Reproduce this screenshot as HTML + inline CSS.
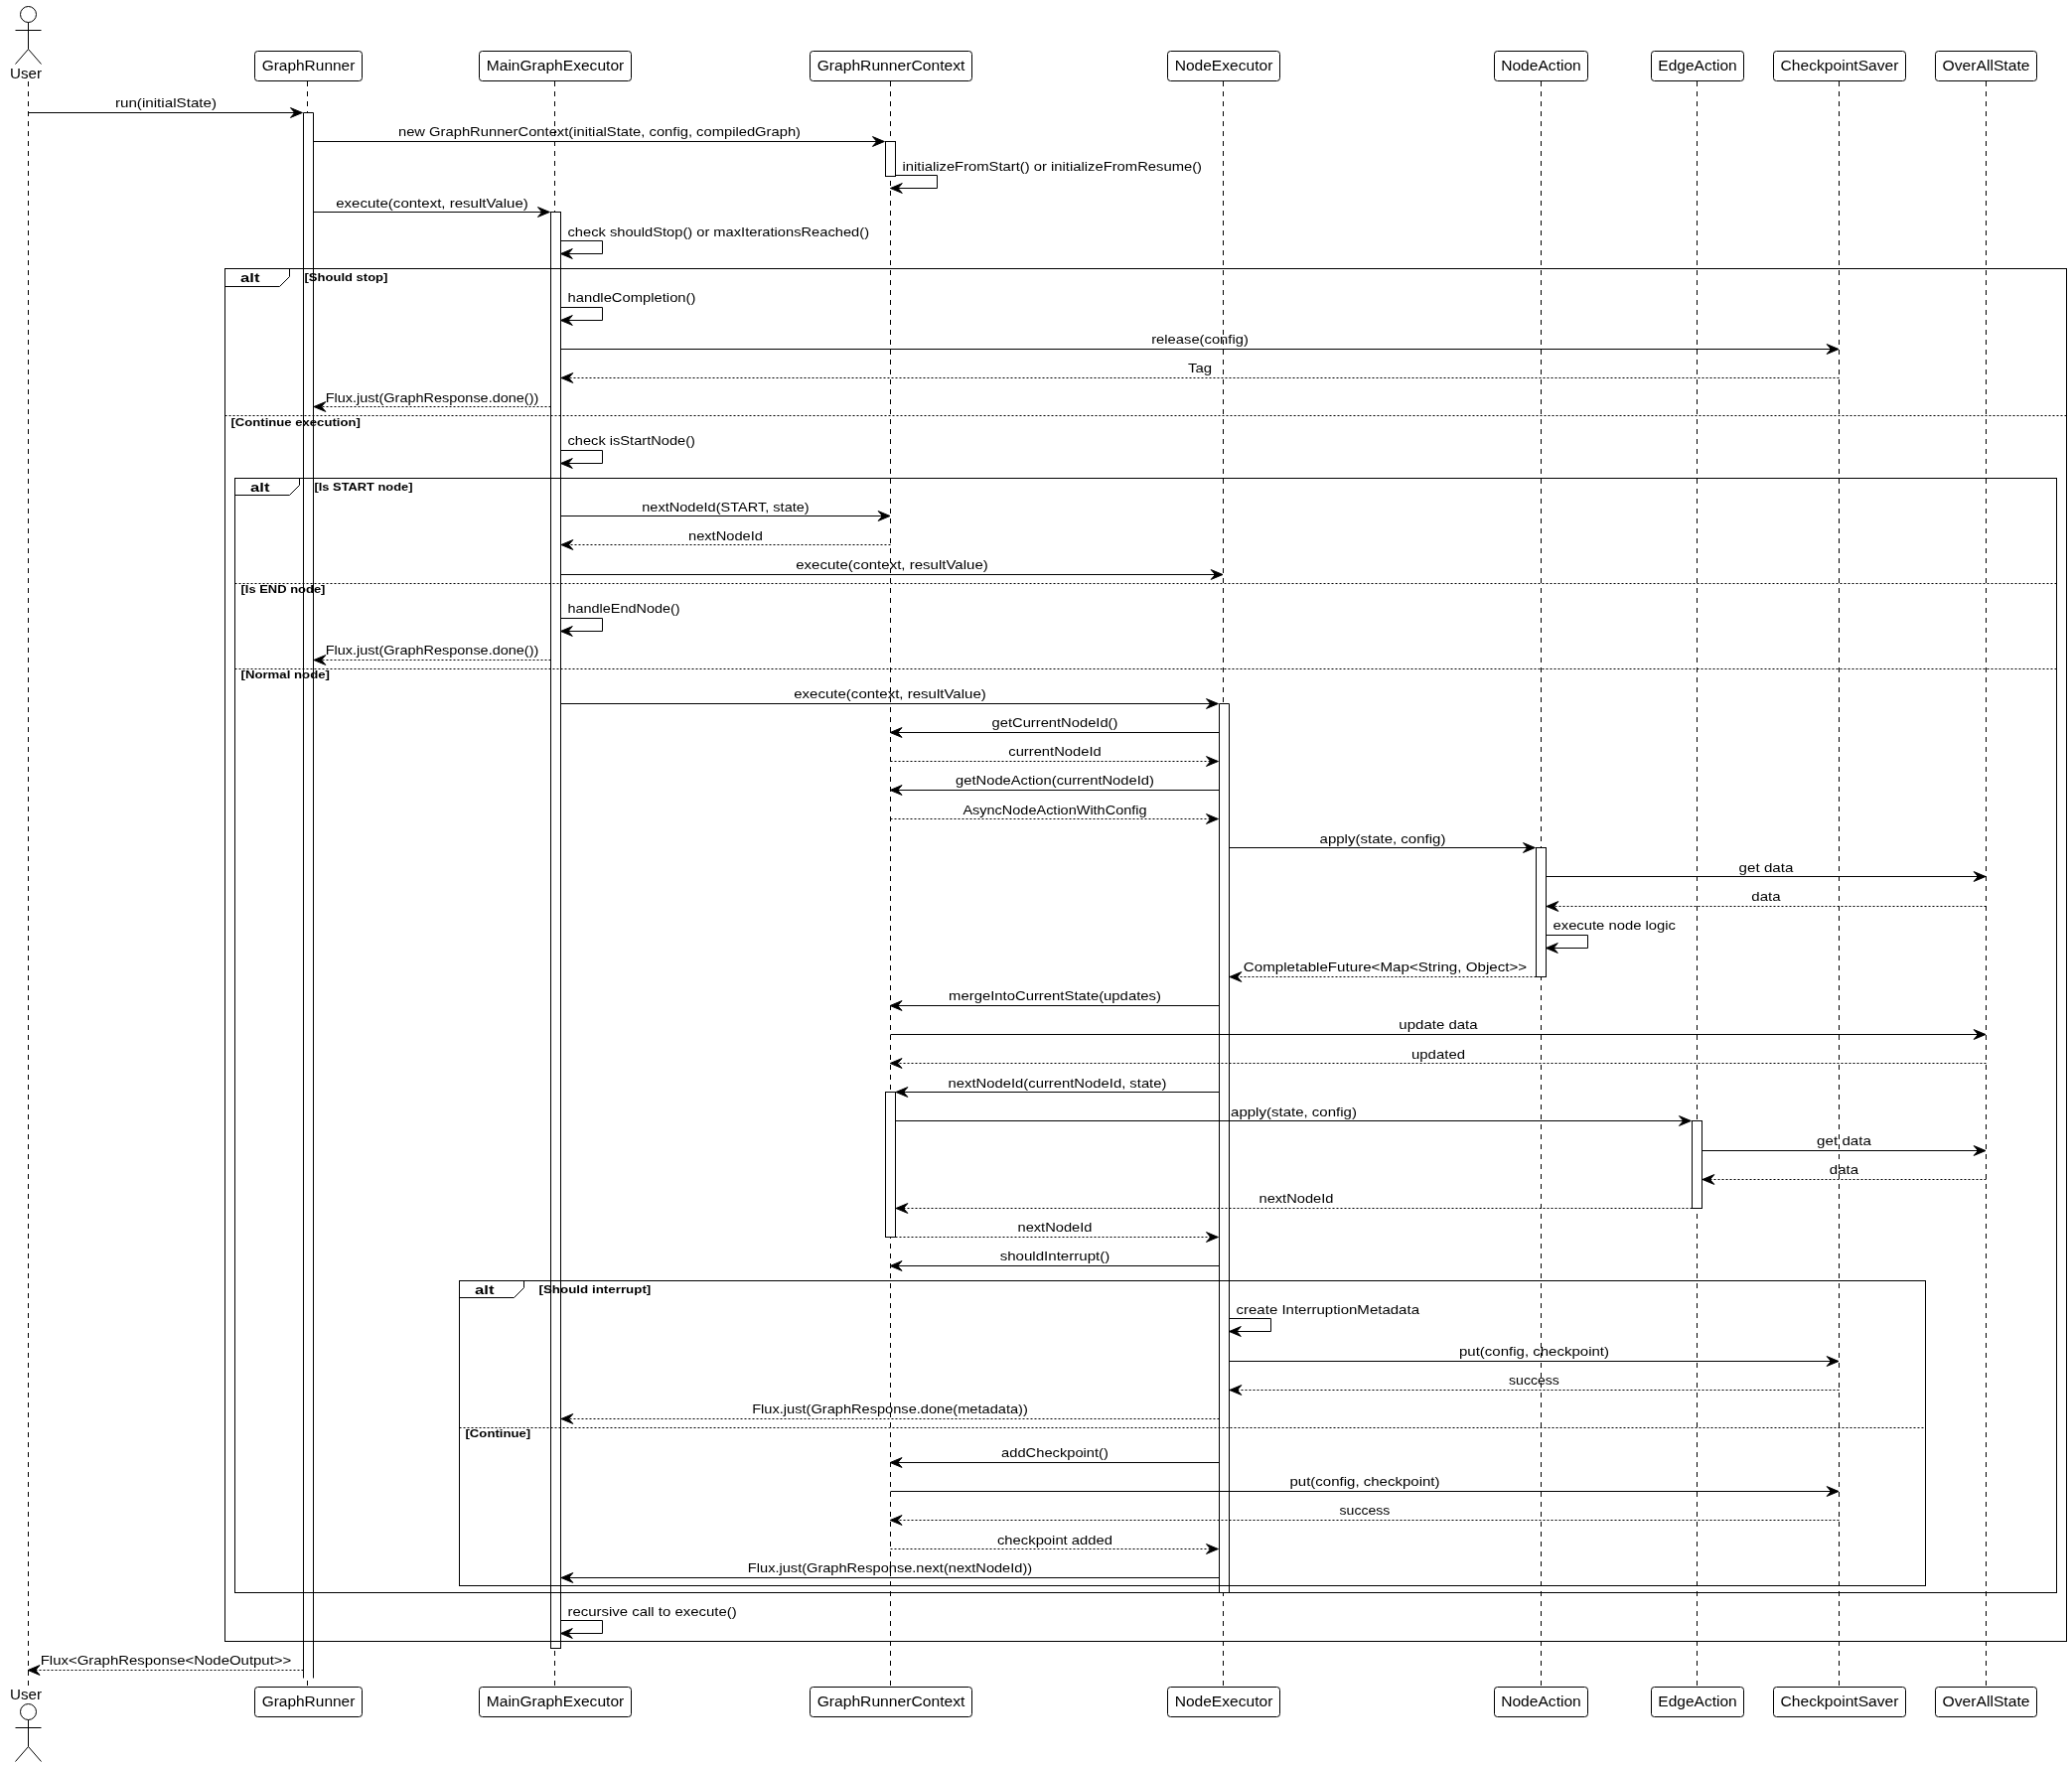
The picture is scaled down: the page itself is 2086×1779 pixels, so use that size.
<!DOCTYPE html>
<html><head><meta charset="utf-8"><title>Sequence</title>
<style>html,body{margin:0;padding:0;background:#fff;width:2086px;height:1779px;overflow:hidden}
text{font-family:"Liberation Sans",sans-serif}</style></head>
<body>
<svg width="2086" height="1779" viewBox="0 0 2086 1779" style="display:block;will-change:transform">
<rect x="0" y="0" width="2086" height="1779" fill="#fff"/>
<g font-family="'Liberation Sans', sans-serif" fill="#000">
<g stroke="#000" stroke-width="1" stroke-dasharray="5,5" fill="none">
<line x1="28.5" y1="82" x2="28.5" y2="1698.5"/>
<line x1="309.5" y1="82" x2="309.5" y2="1698.5"/>
<line x1="558.5" y1="82" x2="558.5" y2="1698.5"/>
<line x1="896.5" y1="82" x2="896.5" y2="1698.5"/>
<line x1="1231.5" y1="82" x2="1231.5" y2="1698.5"/>
<line x1="1551.5" y1="82" x2="1551.5" y2="1698.5"/>
<line x1="1708.5" y1="82" x2="1708.5" y2="1698.5"/>
<line x1="1851.5" y1="82" x2="1851.5" y2="1698.5"/>
<line x1="1999.5" y1="82" x2="1999.5" y2="1698.5"/>
</g>
<rect x="256.5" y="51.5" width="108.0" height="30.0" rx="3" ry="3" fill="#fff" stroke="#000" stroke-width="1"/>
<text x="310.50" y="71.00" font-size="15.3" text-anchor="middle" textLength="93.66" lengthAdjust="spacingAndGlyphs">GraphRunner</text>
<rect x="256.5" y="1698.5" width="108.0" height="30.0" rx="3" ry="3" fill="#fff" stroke="#000" stroke-width="1"/>
<text x="310.50" y="1718.00" font-size="15.3" text-anchor="middle" textLength="93.66" lengthAdjust="spacingAndGlyphs">GraphRunner</text>
<rect x="482.5" y="51.5" width="153.0" height="30.0" rx="3" ry="3" fill="#fff" stroke="#000" stroke-width="1"/>
<text x="559.00" y="71.00" font-size="15.3" text-anchor="middle" textLength="138.49" lengthAdjust="spacingAndGlyphs">MainGraphExecutor</text>
<rect x="482.5" y="1698.5" width="153.0" height="30.0" rx="3" ry="3" fill="#fff" stroke="#000" stroke-width="1"/>
<text x="559.00" y="1718.00" font-size="15.3" text-anchor="middle" textLength="138.49" lengthAdjust="spacingAndGlyphs">MainGraphExecutor</text>
<rect x="815.5" y="51.5" width="163.0" height="30.0" rx="3" ry="3" fill="#fff" stroke="#000" stroke-width="1"/>
<text x="897.00" y="71.00" font-size="15.3" text-anchor="middle" textLength="148.75" lengthAdjust="spacingAndGlyphs">GraphRunnerContext</text>
<rect x="815.5" y="1698.5" width="163.0" height="30.0" rx="3" ry="3" fill="#fff" stroke="#000" stroke-width="1"/>
<text x="897.00" y="1718.00" font-size="15.3" text-anchor="middle" textLength="148.75" lengthAdjust="spacingAndGlyphs">GraphRunnerContext</text>
<rect x="1175.5" y="51.5" width="113.0" height="30.0" rx="3" ry="3" fill="#fff" stroke="#000" stroke-width="1"/>
<text x="1232.00" y="71.00" font-size="15.3" text-anchor="middle" textLength="98.66" lengthAdjust="spacingAndGlyphs">NodeExecutor</text>
<rect x="1175.5" y="1698.5" width="113.0" height="30.0" rx="3" ry="3" fill="#fff" stroke="#000" stroke-width="1"/>
<text x="1232.00" y="1718.00" font-size="15.3" text-anchor="middle" textLength="98.66" lengthAdjust="spacingAndGlyphs">NodeExecutor</text>
<rect x="1504.5" y="51.5" width="94.0" height="30.0" rx="3" ry="3" fill="#fff" stroke="#000" stroke-width="1"/>
<text x="1551.50" y="71.00" font-size="15.3" text-anchor="middle" textLength="80.63" lengthAdjust="spacingAndGlyphs">NodeAction</text>
<rect x="1504.5" y="1698.5" width="94.0" height="30.0" rx="3" ry="3" fill="#fff" stroke="#000" stroke-width="1"/>
<text x="1551.50" y="1718.00" font-size="15.3" text-anchor="middle" textLength="80.63" lengthAdjust="spacingAndGlyphs">NodeAction</text>
<rect x="1662.5" y="51.5" width="93.0" height="30.0" rx="3" ry="3" fill="#fff" stroke="#000" stroke-width="1"/>
<text x="1709.00" y="71.00" font-size="15.3" text-anchor="middle" textLength="79.32" lengthAdjust="spacingAndGlyphs">EdgeAction</text>
<rect x="1662.5" y="1698.5" width="93.0" height="30.0" rx="3" ry="3" fill="#fff" stroke="#000" stroke-width="1"/>
<text x="1709.00" y="1718.00" font-size="15.3" text-anchor="middle" textLength="79.32" lengthAdjust="spacingAndGlyphs">EdgeAction</text>
<rect x="1785.5" y="51.5" width="133.0" height="30.0" rx="3" ry="3" fill="#fff" stroke="#000" stroke-width="1"/>
<text x="1852.00" y="71.00" font-size="15.3" text-anchor="middle" textLength="118.89" lengthAdjust="spacingAndGlyphs">CheckpointSaver</text>
<rect x="1785.5" y="1698.5" width="133.0" height="30.0" rx="3" ry="3" fill="#fff" stroke="#000" stroke-width="1"/>
<text x="1852.00" y="1718.00" font-size="15.3" text-anchor="middle" textLength="118.89" lengthAdjust="spacingAndGlyphs">CheckpointSaver</text>
<rect x="1948.5" y="51.5" width="102.0" height="30.0" rx="3" ry="3" fill="#fff" stroke="#000" stroke-width="1"/>
<text x="1999.50" y="71.00" font-size="15.3" text-anchor="middle" textLength="88.09" lengthAdjust="spacingAndGlyphs">OverAllState</text>
<rect x="1948.5" y="1698.5" width="102.0" height="30.0" rx="3" ry="3" fill="#fff" stroke="#000" stroke-width="1"/>
<text x="1999.50" y="1718.00" font-size="15.3" text-anchor="middle" textLength="88.09" lengthAdjust="spacingAndGlyphs">OverAllState</text>
<g stroke="#000" stroke-width="1" fill="none">
<circle cx="28.5" cy="14.5" r="8" fill="#fff"/>
<line x1="28.5" y1="22.5" x2="28.5" y2="49.5"/>
<line x1="15.5" y1="30.5" x2="41.5" y2="30.5"/>
<polyline points="15.5,64.5 28.5,49.5 41.5,64.5"/>
</g>
<text x="10.00" y="79.00" font-size="15.3" text-anchor="start" textLength="31.91" lengthAdjust="spacingAndGlyphs">User</text>
<g stroke="#000" stroke-width="1" fill="none">
<circle cx="28.5" cy="1723.5" r="8" fill="#fff"/>
<line x1="28.5" y1="1731.5" x2="28.5" y2="1758.5"/>
<line x1="15.5" y1="1739.5" x2="41.5" y2="1739.5"/>
<polyline points="15.5,1773.5 28.5,1758.5 41.5,1773.5"/>
</g>
<text x="10.00" y="1710.60" font-size="15.3" text-anchor="start" textLength="31.91" lengthAdjust="spacingAndGlyphs">User</text>
<rect x="305.5" y="113.5" width="10.0" height="1576.0" fill="#fff" stroke="none"/>
<path d="M305.5,1689.5 V113.5 H315.5 V1689.5" fill="none" stroke="#000" stroke-width="1"/>
<rect x="891.5" y="142.5" width="10.0" height="35.0" fill="#fff" stroke="none"/>
<rect x="891.5" y="142.5" width="10.0" height="35.0" fill="none" stroke="#000" stroke-width="1"/>
<rect x="554.5" y="213.5" width="10.0" height="1446.0" fill="#fff" stroke="none"/>
<rect x="554.5" y="213.5" width="10.0" height="1446.0" fill="none" stroke="#000" stroke-width="1"/>
<rect x="1227.5" y="708.5" width="10.0" height="895.0" fill="#fff" stroke="none"/>
<path d="M1227.5,1603.5 V708.5 H1237.5 V1603.5" fill="none" stroke="#000" stroke-width="1"/>
<rect x="1546.5" y="853.5" width="10.0" height="130.0" fill="#fff" stroke="none"/>
<rect x="1546.5" y="853.5" width="10.0" height="130.0" fill="none" stroke="#000" stroke-width="1"/>
<rect x="891.5" y="1099.5" width="10.0" height="146.0" fill="#fff" stroke="none"/>
<rect x="891.5" y="1099.5" width="10.0" height="146.0" fill="none" stroke="#000" stroke-width="1"/>
<rect x="1703.5" y="1128.5" width="10.0" height="88.0" fill="#fff" stroke="none"/>
<rect x="1703.5" y="1128.5" width="10.0" height="88.0" fill="none" stroke="#000" stroke-width="1"/>
<rect x="226.5" y="270.5" width="1854.0" height="1382.0" fill="none" stroke="#000" stroke-width="1"/>
<path d="M226.5,288.5 H281.5 L291.5,278.5 V270.5" fill="none" stroke="#000" stroke-width="1"/>
<text x="242.00" y="283.70" font-size="13.4" font-weight="bold" text-anchor="start" textLength="19.44" lengthAdjust="spacingAndGlyphs">alt</text>
<text x="306.50" y="283.00" font-size="11.4" font-weight="bold" text-anchor="start" textLength="83.91" lengthAdjust="spacingAndGlyphs">[Should stop]</text>
<line x1="226.5" y1="418.5" x2="2080.5" y2="418.5" stroke="#000" stroke-width="1" stroke-dasharray="2,2"/>
<text x="232.50" y="428.70" font-size="11.4" font-weight="bold" text-anchor="start" textLength="130.28" lengthAdjust="spacingAndGlyphs">[Continue execution]</text>
<rect x="236.5" y="481.5" width="1834.0" height="1122.0" fill="none" stroke="#000" stroke-width="1"/>
<path d="M236.5,498.5 H291.5 L301.5,488.5 V481.5" fill="none" stroke="#000" stroke-width="1"/>
<text x="252.00" y="494.70" font-size="13.4" font-weight="bold" text-anchor="start" textLength="19.44" lengthAdjust="spacingAndGlyphs">alt</text>
<text x="316.50" y="494.00" font-size="11.4" font-weight="bold" text-anchor="start" textLength="98.99" lengthAdjust="spacingAndGlyphs">[Is START node]</text>
<line x1="236.5" y1="587.5" x2="2070.5" y2="587.5" stroke="#000" stroke-width="1" stroke-dasharray="2,2"/>
<text x="242.50" y="596.90" font-size="11.4" font-weight="bold" text-anchor="start" textLength="84.93" lengthAdjust="spacingAndGlyphs">[Is END node]</text>
<line x1="236.5" y1="673.5" x2="2070.5" y2="673.5" stroke="#000" stroke-width="1" stroke-dasharray="2,2"/>
<text x="242.50" y="682.70" font-size="11.4" font-weight="bold" text-anchor="start" textLength="89.45" lengthAdjust="spacingAndGlyphs">[Normal node]</text>
<rect x="462.5" y="1289.5" width="1476.0" height="307.0" fill="none" stroke="#000" stroke-width="1"/>
<path d="M462.5,1306.5 H517.5 L527.5,1296.5 V1289.5" fill="none" stroke="#000" stroke-width="1"/>
<text x="478.00" y="1302.70" font-size="13.4" font-weight="bold" text-anchor="start" textLength="19.44" lengthAdjust="spacingAndGlyphs">alt</text>
<text x="542.50" y="1302.00" font-size="11.4" font-weight="bold" text-anchor="start" textLength="112.80" lengthAdjust="spacingAndGlyphs">[Should interrupt]</text>
<line x1="462.5" y1="1437.5" x2="1938.5" y2="1437.5" stroke="#000" stroke-width="1" stroke-dasharray="2,2"/>
<text x="468.50" y="1446.50" font-size="11.4" font-weight="bold" text-anchor="start" textLength="65.67" lengthAdjust="spacingAndGlyphs">[Continue]</text>
<line x1="28.5" y1="113.5" x2="304.3" y2="113.5" stroke="#000" stroke-width="1"/>
<polygon points="304.3,113.5 292.5,108.6 296.7,113.5 292.5,118.4" fill="#000" stroke="#000" stroke-width="1"/>
<text x="167.00" y="107.70" font-size="13.5" text-anchor="middle" textLength="102.13" lengthAdjust="spacingAndGlyphs">run(initialState)</text>
<line x1="315.5" y1="142.5" x2="890.3" y2="142.5" stroke="#000" stroke-width="1"/>
<polygon points="890.3,142.5 878.5,137.6 882.6999999999999,142.5 878.5,147.4" fill="#000" stroke="#000" stroke-width="1"/>
<text x="603.50" y="137.20" font-size="13.5" text-anchor="middle" textLength="405.11" lengthAdjust="spacingAndGlyphs">new GraphRunnerContext(initialState, config, compiledGraph)</text>
<polyline points="901.5,176.5 943.5,176.5 943.5,189.5 896.5,189.5" fill="none" stroke="#000" stroke-width="1"/>
<polygon points="896.5,189.5 908.3,184.6 904.1,189.5 908.3,194.4" fill="#000" stroke="#000" stroke-width="1"/>
<text x="908.50" y="171.80" font-size="13.5" text-anchor="start" textLength="301.56" lengthAdjust="spacingAndGlyphs">initializeFromStart() or initializeFromResume()</text>
<line x1="315.5" y1="213.5" x2="553.3" y2="213.5" stroke="#000" stroke-width="1"/>
<polygon points="553.3,213.5 541.5,208.6 545.6999999999999,213.5 541.5,218.4" fill="#000" stroke="#000" stroke-width="1"/>
<text x="435.00" y="208.80" font-size="13.5" text-anchor="middle" textLength="193.58" lengthAdjust="spacingAndGlyphs">execute(context, resultValue)</text>
<polyline points="564.5,242.5 606.5,242.5 606.5,255.5 564.5,255.5" fill="none" stroke="#000" stroke-width="1"/>
<polygon points="564.5,255.5 576.3,250.6 572.1,255.5 576.3,260.4" fill="#000" stroke="#000" stroke-width="1"/>
<text x="571.50" y="238.00" font-size="13.5" text-anchor="start" textLength="303.54" lengthAdjust="spacingAndGlyphs">check shouldStop() or maxIterationsReached()</text>
<polyline points="564.5,309.5 606.5,309.5 606.5,322.5 564.5,322.5" fill="none" stroke="#000" stroke-width="1"/>
<polygon points="564.5,322.5 576.3,317.6 572.1,322.5 576.3,327.4" fill="#000" stroke="#000" stroke-width="1"/>
<text x="571.50" y="303.80" font-size="13.5" text-anchor="start" textLength="128.91" lengthAdjust="spacingAndGlyphs">handleCompletion()</text>
<line x1="564.5" y1="351.5" x2="1851.0" y2="351.5" stroke="#000" stroke-width="1"/>
<polygon points="1851.0,351.5 1839.2,346.6 1843.4,351.5 1839.2,356.4" fill="#000" stroke="#000" stroke-width="1"/>
<text x="1208.00" y="345.90" font-size="13.5" text-anchor="middle" textLength="97.61" lengthAdjust="spacingAndGlyphs">release(config)</text>
<line x1="1851.5" y1="380.5" x2="565.0" y2="380.5" stroke="#000" stroke-width="1" stroke-dasharray="2,2"/>
<polygon points="565.0,380.5 576.8,375.6 572.6,380.5 576.8,385.4" fill="#000" stroke="#000" stroke-width="1"/>
<text x="1208.00" y="375.20" font-size="13.5" text-anchor="middle" textLength="24.16" lengthAdjust="spacingAndGlyphs">Tag</text>
<line x1="554.5" y1="409.5" x2="316.0" y2="409.5" stroke="#000" stroke-width="1" stroke-dasharray="2,2"/>
<polygon points="316.0,409.5 327.8,404.6 323.6,409.5 327.8,414.4" fill="#000" stroke="#000" stroke-width="1"/>
<text x="435.00" y="404.70" font-size="13.5" text-anchor="middle" textLength="214.63" lengthAdjust="spacingAndGlyphs">Flux.just(GraphResponse.done())</text>
<polyline points="564.5,453.5 606.5,453.5 606.5,466.5 564.5,466.5" fill="none" stroke="#000" stroke-width="1"/>
<polygon points="564.5,466.5 576.3,461.6 572.1,466.5 576.3,471.4" fill="#000" stroke="#000" stroke-width="1"/>
<text x="571.50" y="447.70" font-size="13.5" text-anchor="start" textLength="128.41" lengthAdjust="spacingAndGlyphs">check isStartNode()</text>
<line x1="564.5" y1="519.5" x2="896.0" y2="519.5" stroke="#000" stroke-width="1"/>
<polygon points="896.0,519.5 884.2,514.6 888.4,519.5 884.2,524.4" fill="#000" stroke="#000" stroke-width="1"/>
<text x="730.50" y="514.80" font-size="13.5" text-anchor="middle" textLength="168.44" lengthAdjust="spacingAndGlyphs">nextNodeId(START, state)</text>
<line x1="896.5" y1="548.5" x2="565.0" y2="548.5" stroke="#000" stroke-width="1" stroke-dasharray="2,2"/>
<polygon points="565.0,548.5 576.8,543.6 572.6,548.5 576.8,553.4" fill="#000" stroke="#000" stroke-width="1"/>
<text x="730.50" y="543.70" font-size="13.5" text-anchor="middle" textLength="75.04" lengthAdjust="spacingAndGlyphs">nextNodeId</text>
<line x1="564.5" y1="578.5" x2="1231.0" y2="578.5" stroke="#000" stroke-width="1"/>
<polygon points="1231.0,578.5 1219.2,573.6 1223.4,578.5 1219.2,583.4" fill="#000" stroke="#000" stroke-width="1"/>
<text x="898.00" y="572.70" font-size="13.5" text-anchor="middle" textLength="193.58" lengthAdjust="spacingAndGlyphs">execute(context, resultValue)</text>
<polyline points="564.5,622.5 606.5,622.5 606.5,635.5 564.5,635.5" fill="none" stroke="#000" stroke-width="1"/>
<polygon points="564.5,635.5 576.3,630.6 572.1,635.5 576.3,640.4" fill="#000" stroke="#000" stroke-width="1"/>
<text x="571.50" y="617.00" font-size="13.5" text-anchor="start" textLength="113.08" lengthAdjust="spacingAndGlyphs">handleEndNode()</text>
<line x1="554.5" y1="664.5" x2="316.0" y2="664.5" stroke="#000" stroke-width="1" stroke-dasharray="2,2"/>
<polygon points="316.0,664.5 327.8,659.6 323.6,664.5 327.8,669.4" fill="#000" stroke="#000" stroke-width="1"/>
<text x="435.00" y="658.70" font-size="13.5" text-anchor="middle" textLength="214.63" lengthAdjust="spacingAndGlyphs">Flux.just(GraphResponse.done())</text>
<line x1="564.5" y1="708.5" x2="1226.3" y2="708.5" stroke="#000" stroke-width="1"/>
<polygon points="1226.3,708.5 1214.5,703.6 1218.7,708.5 1214.5,713.4" fill="#000" stroke="#000" stroke-width="1"/>
<text x="896.00" y="702.70" font-size="13.5" text-anchor="middle" textLength="193.58" lengthAdjust="spacingAndGlyphs">execute(context, resultValue)</text>
<line x1="1227.5" y1="737.5" x2="896.2" y2="737.5" stroke="#000" stroke-width="1"/>
<polygon points="896.2,737.5 908.0,732.6 903.8000000000001,737.5 908.0,742.4" fill="#000" stroke="#000" stroke-width="1"/>
<text x="1062.00" y="731.90" font-size="13.5" text-anchor="middle" textLength="126.85" lengthAdjust="spacingAndGlyphs">getCurrentNodeId()</text>
<line x1="896.5" y1="766.5" x2="1226.3" y2="766.5" stroke="#000" stroke-width="1" stroke-dasharray="2,2"/>
<polygon points="1226.3,766.5 1214.5,761.6 1218.7,766.5 1214.5,771.4" fill="#000" stroke="#000" stroke-width="1"/>
<text x="1062.00" y="760.90" font-size="13.5" text-anchor="middle" textLength="93.42" lengthAdjust="spacingAndGlyphs">currentNodeId</text>
<line x1="1227.5" y1="795.5" x2="896.2" y2="795.5" stroke="#000" stroke-width="1"/>
<polygon points="896.2,795.5 908.0,790.6 903.8000000000001,795.5 908.0,800.4" fill="#000" stroke="#000" stroke-width="1"/>
<text x="1062.00" y="790.10" font-size="13.5" text-anchor="middle" textLength="199.79" lengthAdjust="spacingAndGlyphs">getNodeAction(currentNodeId)</text>
<line x1="896.5" y1="824.5" x2="1226.3" y2="824.5" stroke="#000" stroke-width="1" stroke-dasharray="2,2"/>
<polygon points="1226.3,824.5 1214.5,819.6 1218.7,824.5 1214.5,829.4" fill="#000" stroke="#000" stroke-width="1"/>
<text x="1062.00" y="819.80" font-size="13.5" text-anchor="middle" textLength="185.13" lengthAdjust="spacingAndGlyphs">AsyncNodeActionWithConfig</text>
<line x1="1237.5" y1="853.5" x2="1545.3" y2="853.5" stroke="#000" stroke-width="1"/>
<polygon points="1545.3,853.5 1533.5,848.6 1537.7,853.5 1533.5,858.4" fill="#000" stroke="#000" stroke-width="1"/>
<text x="1392.00" y="848.70" font-size="13.5" text-anchor="middle" textLength="126.90" lengthAdjust="spacingAndGlyphs">apply(state, config)</text>
<line x1="1556.5" y1="882.5" x2="1999.0" y2="882.5" stroke="#000" stroke-width="1"/>
<polygon points="1999.0,882.5 1987.2,877.6 1991.4,882.5 1987.2,887.4" fill="#000" stroke="#000" stroke-width="1"/>
<text x="1778.00" y="877.90" font-size="13.5" text-anchor="middle" textLength="54.76" lengthAdjust="spacingAndGlyphs">get data</text>
<line x1="1999.5" y1="912.5" x2="1557.0" y2="912.5" stroke="#000" stroke-width="1" stroke-dasharray="2,2"/>
<polygon points="1557.0,912.5 1568.8,907.6 1564.6,912.5 1568.8,917.4" fill="#000" stroke="#000" stroke-width="1"/>
<text x="1778.00" y="906.80" font-size="13.5" text-anchor="middle" textLength="29.28" lengthAdjust="spacingAndGlyphs">data</text>
<polyline points="1556.5,941.5 1598.5,941.5 1598.5,954.5 1556.5,954.5" fill="none" stroke="#000" stroke-width="1"/>
<polygon points="1556.5,954.5 1568.3,949.6 1564.1,954.5 1568.3,959.4" fill="#000" stroke="#000" stroke-width="1"/>
<text x="1563.50" y="936.00" font-size="13.5" text-anchor="start" textLength="123.46" lengthAdjust="spacingAndGlyphs">execute node logic</text>
<line x1="1546.5" y1="983.5" x2="1238.0" y2="983.5" stroke="#000" stroke-width="1" stroke-dasharray="2,2"/>
<polygon points="1238.0,983.5 1249.8,978.6 1245.6,983.5 1249.8,988.4" fill="#000" stroke="#000" stroke-width="1"/>
<text x="1394.50" y="977.70" font-size="13.5" text-anchor="middle" textLength="285.28" lengthAdjust="spacingAndGlyphs">CompletableFuture&lt;Map&lt;String, Object&gt;&gt;</text>
<line x1="1227.5" y1="1012.5" x2="896.2" y2="1012.5" stroke="#000" stroke-width="1"/>
<polygon points="896.2,1012.5 908.0,1007.6 903.8000000000001,1012.5 908.0,1017.4" fill="#000" stroke="#000" stroke-width="1"/>
<text x="1062.00" y="1007.10" font-size="13.5" text-anchor="middle" textLength="213.85" lengthAdjust="spacingAndGlyphs">mergeIntoCurrentState(updates)</text>
<line x1="896.5" y1="1041.5" x2="1999.0" y2="1041.5" stroke="#000" stroke-width="1"/>
<polygon points="1999.0,1041.5 1987.2,1036.6 1991.4,1041.5 1987.2,1046.4" fill="#000" stroke="#000" stroke-width="1"/>
<text x="1448.00" y="1035.90" font-size="13.5" text-anchor="middle" textLength="79.22" lengthAdjust="spacingAndGlyphs">update data</text>
<line x1="1999.5" y1="1070.5" x2="896.2" y2="1070.5" stroke="#000" stroke-width="1" stroke-dasharray="2,2"/>
<polygon points="896.2,1070.5 908.0,1065.6 903.8000000000001,1070.5 908.0,1075.4" fill="#000" stroke="#000" stroke-width="1"/>
<text x="1448.00" y="1065.80" font-size="13.5" text-anchor="middle" textLength="54.06" lengthAdjust="spacingAndGlyphs">updated</text>
<line x1="1227.5" y1="1099.5" x2="902.0" y2="1099.5" stroke="#000" stroke-width="1"/>
<polygon points="902.0,1099.5 913.8,1094.6 909.6,1099.5 913.8,1104.4" fill="#000" stroke="#000" stroke-width="1"/>
<text x="1064.50" y="1094.50" font-size="13.5" text-anchor="middle" textLength="219.81" lengthAdjust="spacingAndGlyphs">nextNodeId(currentNodeId, state)</text>
<line x1="901.5" y1="1128.5" x2="1702.3" y2="1128.5" stroke="#000" stroke-width="1"/>
<polygon points="1702.3,1128.5 1690.5,1123.6 1694.7,1128.5 1690.5,1133.4" fill="#000" stroke="#000" stroke-width="1"/>
<text x="1302.50" y="1123.60" font-size="13.5" text-anchor="middle" textLength="126.90" lengthAdjust="spacingAndGlyphs">apply(state, config)</text>
<line x1="1713.5" y1="1158.5" x2="1999.0" y2="1158.5" stroke="#000" stroke-width="1"/>
<polygon points="1999.0,1158.5 1987.2,1153.6 1991.4,1158.5 1987.2,1163.4" fill="#000" stroke="#000" stroke-width="1"/>
<text x="1856.50" y="1152.70" font-size="13.5" text-anchor="middle" textLength="54.76" lengthAdjust="spacingAndGlyphs">get data</text>
<line x1="1999.5" y1="1187.5" x2="1714.0" y2="1187.5" stroke="#000" stroke-width="1" stroke-dasharray="2,2"/>
<polygon points="1714.0,1187.5 1725.8,1182.6 1721.6,1187.5 1725.8,1192.4" fill="#000" stroke="#000" stroke-width="1"/>
<text x="1856.50" y="1181.80" font-size="13.5" text-anchor="middle" textLength="29.28" lengthAdjust="spacingAndGlyphs">data</text>
<line x1="1703.5" y1="1216.5" x2="902.0" y2="1216.5" stroke="#000" stroke-width="1" stroke-dasharray="2,2"/>
<polygon points="902.0,1216.5 913.8,1211.6 909.6,1216.5 913.8,1221.4" fill="#000" stroke="#000" stroke-width="1"/>
<text x="1305.00" y="1211.10" font-size="13.5" text-anchor="middle" textLength="75.04" lengthAdjust="spacingAndGlyphs">nextNodeId</text>
<line x1="901.5" y1="1245.5" x2="1226.3" y2="1245.5" stroke="#000" stroke-width="1" stroke-dasharray="2,2"/>
<polygon points="1226.3,1245.5 1214.5,1240.6 1218.7,1245.5 1214.5,1250.4" fill="#000" stroke="#000" stroke-width="1"/>
<text x="1062.00" y="1239.80" font-size="13.5" text-anchor="middle" textLength="75.04" lengthAdjust="spacingAndGlyphs">nextNodeId</text>
<line x1="1227.5" y1="1274.5" x2="896.2" y2="1274.5" stroke="#000" stroke-width="1"/>
<polygon points="896.2,1274.5 908.0,1269.6 903.8000000000001,1274.5 908.0,1279.4" fill="#000" stroke="#000" stroke-width="1"/>
<text x="1062.00" y="1269.10" font-size="13.5" text-anchor="middle" textLength="110.66" lengthAdjust="spacingAndGlyphs">shouldInterrupt()</text>
<polyline points="1237.5,1327.5 1279.5,1327.5 1279.5,1340.5 1237.5,1340.5" fill="none" stroke="#000" stroke-width="1"/>
<polygon points="1237.5,1340.5 1249.3,1335.6 1245.1,1340.5 1249.3,1345.4" fill="#000" stroke="#000" stroke-width="1"/>
<text x="1244.50" y="1322.80" font-size="13.5" text-anchor="start" textLength="184.49" lengthAdjust="spacingAndGlyphs">create InterruptionMetadata</text>
<line x1="1237.5" y1="1370.5" x2="1851.0" y2="1370.5" stroke="#000" stroke-width="1"/>
<polygon points="1851.0,1370.5 1839.2,1365.6 1843.4,1370.5 1839.2,1375.4" fill="#000" stroke="#000" stroke-width="1"/>
<text x="1544.50" y="1364.70" font-size="13.5" text-anchor="middle" textLength="150.99" lengthAdjust="spacingAndGlyphs">put(config, checkpoint)</text>
<line x1="1851.5" y1="1399.5" x2="1238.0" y2="1399.5" stroke="#000" stroke-width="1" stroke-dasharray="2,2"/>
<polygon points="1238.0,1399.5 1249.8,1394.6 1245.6,1399.5 1249.8,1404.4" fill="#000" stroke="#000" stroke-width="1"/>
<text x="1544.50" y="1393.80" font-size="13.5" text-anchor="middle" textLength="50.85" lengthAdjust="spacingAndGlyphs">success</text>
<line x1="1227.5" y1="1428.5" x2="565.0" y2="1428.5" stroke="#000" stroke-width="1" stroke-dasharray="2,2"/>
<polygon points="565.0,1428.5 576.8,1423.6 572.6,1428.5 576.8,1433.4" fill="#000" stroke="#000" stroke-width="1"/>
<text x="896.00" y="1422.70" font-size="13.5" text-anchor="middle" textLength="277.64" lengthAdjust="spacingAndGlyphs">Flux.just(GraphResponse.done(metadata))</text>
<line x1="1227.5" y1="1472.5" x2="896.2" y2="1472.5" stroke="#000" stroke-width="1"/>
<polygon points="896.2,1472.5 908.0,1467.6 903.8000000000001,1472.5 908.0,1477.4" fill="#000" stroke="#000" stroke-width="1"/>
<text x="1062.00" y="1466.70" font-size="13.5" text-anchor="middle" textLength="107.76" lengthAdjust="spacingAndGlyphs">addCheckpoint()</text>
<line x1="896.5" y1="1501.5" x2="1851.0" y2="1501.5" stroke="#000" stroke-width="1"/>
<polygon points="1851.0,1501.5 1839.2,1496.6 1843.4,1501.5 1839.2,1506.4" fill="#000" stroke="#000" stroke-width="1"/>
<text x="1374.00" y="1495.70" font-size="13.5" text-anchor="middle" textLength="150.99" lengthAdjust="spacingAndGlyphs">put(config, checkpoint)</text>
<line x1="1851.5" y1="1530.5" x2="896.2" y2="1530.5" stroke="#000" stroke-width="1" stroke-dasharray="2,2"/>
<polygon points="896.2,1530.5 908.0,1525.6 903.8000000000001,1530.5 908.0,1535.4" fill="#000" stroke="#000" stroke-width="1"/>
<text x="1374.00" y="1524.80" font-size="13.5" text-anchor="middle" textLength="50.85" lengthAdjust="spacingAndGlyphs">success</text>
<line x1="896.5" y1="1559.5" x2="1226.3" y2="1559.5" stroke="#000" stroke-width="1" stroke-dasharray="2,2"/>
<polygon points="1226.3,1559.5 1214.5,1554.6 1218.7,1559.5 1214.5,1564.4" fill="#000" stroke="#000" stroke-width="1"/>
<text x="1062.00" y="1554.60" font-size="13.5" text-anchor="middle" textLength="116.07" lengthAdjust="spacingAndGlyphs">checkpoint added</text>
<line x1="1227.5" y1="1588.5" x2="565.0" y2="1588.5" stroke="#000" stroke-width="1"/>
<polygon points="565.0,1588.5 576.8,1583.6 572.6,1588.5 576.8,1593.4" fill="#000" stroke="#000" stroke-width="1"/>
<text x="896.00" y="1583.30" font-size="13.5" text-anchor="middle" textLength="286.26" lengthAdjust="spacingAndGlyphs">Flux.just(GraphResponse.next(nextNodeId))</text>
<polyline points="564.5,1631.5 606.5,1631.5 606.5,1644.5 564.5,1644.5" fill="none" stroke="#000" stroke-width="1"/>
<polygon points="564.5,1644.5 576.3,1639.6 572.1,1644.5 576.3,1649.4" fill="#000" stroke="#000" stroke-width="1"/>
<text x="571.50" y="1626.90" font-size="13.5" text-anchor="start" textLength="170.25" lengthAdjust="spacingAndGlyphs">recursive call to execute()</text>
<line x1="305.5" y1="1681.5" x2="28.2" y2="1681.5" stroke="#000" stroke-width="1" stroke-dasharray="2,2"/>
<polygon points="28.2,1681.5 40.0,1676.6 35.8,1681.5 40.0,1686.4" fill="#000" stroke="#000" stroke-width="1"/>
<text x="167.00" y="1676.00" font-size="13.5" text-anchor="middle" textLength="252.57" lengthAdjust="spacingAndGlyphs">Flux&lt;GraphResponse&lt;NodeOutput&gt;&gt;</text>
</g></svg>
</body></html>
